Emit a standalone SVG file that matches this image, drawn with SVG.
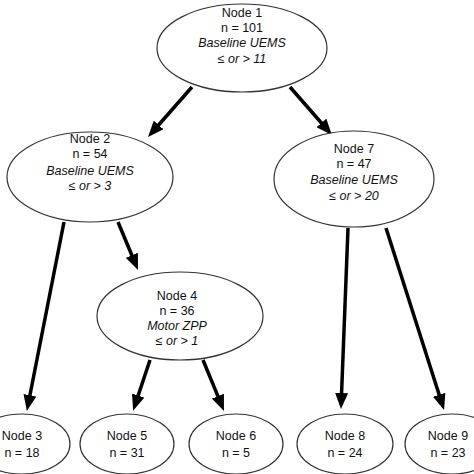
<svg xmlns="http://www.w3.org/2000/svg" width="474" height="474" viewBox="0 0 474 474">
<style>
.n{fill:#fff;stroke:#333;stroke-width:1.2}
text{font-family:"Liberation Sans",Arial,sans-serif;font-size:12.5px;fill:#111;text-anchor:middle}
.i{font-style:italic}
.c line{stroke:#000;stroke-width:3.5;marker-end:url(#a)}
</style>
<defs>
<marker id="a" markerUnits="userSpaceOnUse" markerWidth="16" markerHeight="13" refX="10" refY="6.5" orient="auto">
<path d="M0,0 L16,6.5 L0,13 z" fill="#000"/>
</marker>
</defs>
<rect width="474" height="474" fill="#fff"/>
<g class="c">
<line x1="192" y1="87" x2="152" y2="132.5"/>
<line x1="290" y1="87" x2="328" y2="130.5"/>
<line x1="64" y1="222" x2="28" y2="405"/>
<line x1="118" y1="222" x2="135.7" y2="264.5"/>
<line x1="150" y1="360" x2="135" y2="405"/>
<line x1="203" y1="360" x2="221.7" y2="405.4"/>
<line x1="348" y1="228" x2="341.2" y2="403"/>
<line x1="386" y1="228" x2="442.2" y2="404.3"/>
</g>
<g id="node1"><ellipse class="n" cx="242" cy="48" rx="85" ry="44"/>
<text x="242" y="17">Node 1</text><text x="242" y="32">n = 101</text><text class="i" x="242" y="47">Baseline UEMS</text><text class="i" x="242" y="63">≤ or &gt; 11</text></g>
<g id="node2"><ellipse class="n" cx="90" cy="177" rx="83" ry="45"/>
<text x="90" y="143">Node 2</text><text x="90" y="158">n = 54</text><text class="i" x="90" y="175">Baseline UEMS</text><text class="i" x="90" y="190">≤ or &gt; 3</text></g>
<g id="node7"><ellipse class="n" cx="354" cy="179" rx="80" ry="48"/>
<text x="354" y="153">Node 7</text><text x="354" y="168">n = 47</text><text class="i" x="354" y="184">Baseline UEMS</text><text class="i" x="354" y="200">≤ or &gt; 20</text></g>
<g id="node4"><ellipse class="n" cx="180" cy="316" rx="83" ry="44"/>
<text x="177" y="300">Node 4</text><text x="177" y="315">n = 36</text><text class="i" x="177" y="330">Motor ZPP</text><text class="i" x="177" y="345">≤ or &gt; 1</text></g>
<g id="node3"><ellipse class="n" cx="22" cy="444" rx="48" ry="30"/>
<text x="22" y="440">Node 3</text><text x="22" y="457">n = 18</text></g>
<g id="node5"><ellipse class="n" cx="127" cy="444" rx="47" ry="30"/>
<text x="127" y="440">Node 5</text><text x="127" y="457">n = 31</text></g>
<g id="node6"><ellipse class="n" cx="236" cy="444" rx="47" ry="30"/>
<text x="236" y="440">Node 6</text><text x="236" y="457">n = 5</text></g>
<g id="node8"><ellipse class="n" cx="345" cy="444" rx="48" ry="30"/>
<text x="345" y="440">Node 8</text><text x="345" y="457">n = 24</text></g>
<g id="node9"><ellipse class="n" cx="452" cy="444" rx="47" ry="30"/>
<text x="448" y="440">Node 9</text><text x="448" y="457">n = 23</text></g>
</svg>
